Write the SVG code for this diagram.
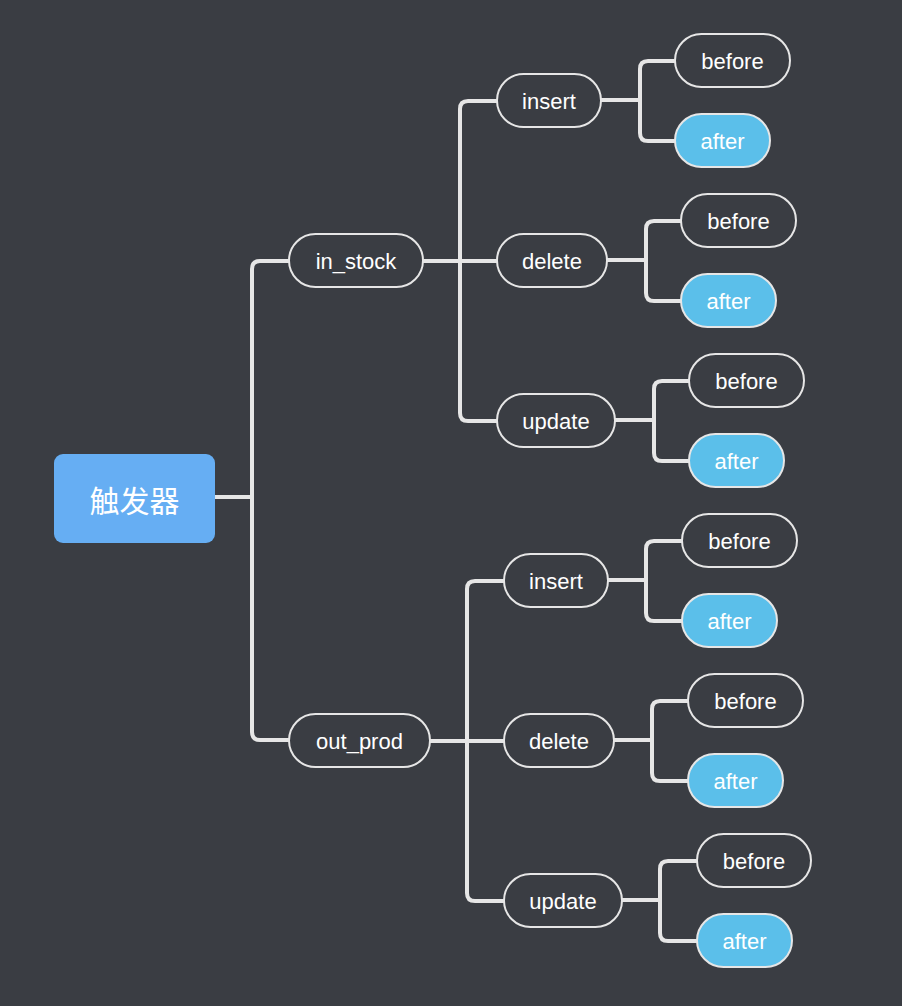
<svg xmlns="http://www.w3.org/2000/svg" width="902" height="1006" viewBox="0 0 902 1006">
<style>
.n{fill:#3a3d43;stroke:#e6e6e6;stroke-width:2}
.a{fill:#5bbfea;stroke:#e6e6e6;stroke-width:2}
.t{fill:#fff;font-family:"Liberation Sans",Arial,sans-serif;font-size:22px;text-anchor:middle;dominant-baseline:central}
.c{fill:none;stroke:#e6e6e6;stroke-width:4;stroke-linejoin:round}
</style>
<rect width="902" height="1006" fill="#3a3d43"/>
<g id="connectors">
<path class="c" d="M215 497H252M289 261H260Q252 261 252 269V732Q252 740 260 740H289"/>
<path class="c" d="M423 261H497M497 101H468Q460 101 460 109V413Q460 421 468 421H497"/>
<path class="c" d="M430 741H504M504 581H475Q467 581 467 589V893Q467 901 475 901H504"/>
<path class="c" d="M601 100H640M675 61H648Q640 61 640 69V133Q640 141 648 141H675"/>
<path class="c" d="M607 260H646M681 221H654Q646 221 646 229V293Q646 301 654 301H681"/>
<path class="c" d="M615 420H654M689 381H662Q654 381 654 389V453Q654 461 662 461H689"/>
<path class="c" d="M608 580H646M682 541H654Q646 541 646 549V613Q646 621 654 621H682"/>
<path class="c" d="M614 740H652M688 701H660Q652 701 652 709V773Q652 781 660 781H688"/>
<path class="c" d="M622 900H660M697 861H668Q660 861 660 869V933Q660 941 668 941H697"/>
</g>
<g id="root"><rect x="54" y="454" width="161" height="89" rx="9" fill="#66aef3"/><text class="t" x="134.5" y="499" style="font-size:30px;font-family:'Noto Sans CJK SC',sans-serif">触发器</text></g>
<g id="in_stock"><rect class="n" x="289" y="234" width="134" height="53" rx="26.5"/><text class="t" x="356" y="261">in_stock</text></g>
<g id="out_prod"><rect class="n" x="289" y="714" width="141" height="53" rx="26.5"/><text class="t" x="359.5" y="741">out_prod</text></g>
<g id="insert1"><rect class="n" x="497" y="74" width="104" height="53" rx="26.5"/><text class="t" x="549" y="101">insert</text></g>
<g id="delete1"><rect class="n" x="497" y="234" width="110" height="53" rx="26.5"/><text class="t" x="552" y="261">delete</text></g>
<g id="update1"><rect class="n" x="497" y="394" width="118" height="53" rx="26.5"/><text class="t" x="556" y="421">update</text></g>
<g id="insert2"><rect class="n" x="504" y="554" width="104" height="53" rx="26.5"/><text class="t" x="556" y="581">insert</text></g>
<g id="delete2"><rect class="n" x="504" y="714" width="110" height="53" rx="26.5"/><text class="t" x="559" y="741">delete</text></g>
<g id="update2"><rect class="n" x="504" y="874" width="118" height="53" rx="26.5"/><text class="t" x="563" y="901">update</text></g>
<g id="b1"><rect class="n" x="675" y="34" width="115" height="53" rx="26.5"/><text class="t" x="732.5" y="61">before</text></g>
<g id="a1"><rect class="a" x="675" y="114" width="95" height="53" rx="26.5"/><text class="t" x="722.5" y="141">after</text></g>
<g id="b2"><rect class="n" x="681" y="194" width="115" height="53" rx="26.5"/><text class="t" x="738.5" y="221">before</text></g>
<g id="a2"><rect class="a" x="681" y="274" width="95" height="53" rx="26.5"/><text class="t" x="728.5" y="301">after</text></g>
<g id="b3"><rect class="n" x="689" y="354" width="115" height="53" rx="26.5"/><text class="t" x="746.5" y="381">before</text></g>
<g id="a3"><rect class="a" x="689" y="434" width="95" height="53" rx="26.5"/><text class="t" x="736.5" y="461">after</text></g>
<g id="b4"><rect class="n" x="682" y="514" width="115" height="53" rx="26.5"/><text class="t" x="739.5" y="541">before</text></g>
<g id="a4"><rect class="a" x="682" y="594" width="95" height="53" rx="26.5"/><text class="t" x="729.5" y="621">after</text></g>
<g id="b5"><rect class="n" x="688" y="674" width="115" height="53" rx="26.5"/><text class="t" x="745.5" y="701">before</text></g>
<g id="a5"><rect class="a" x="688" y="754" width="95" height="53" rx="26.5"/><text class="t" x="735.5" y="781">after</text></g>
<g id="b6"><rect class="n" x="697" y="834" width="114" height="53" rx="26.5"/><text class="t" x="754" y="861">before</text></g>
<g id="a6"><rect class="a" x="697" y="914" width="95" height="53" rx="26.5"/><text class="t" x="744.5" y="941">after</text></g>
</svg>
